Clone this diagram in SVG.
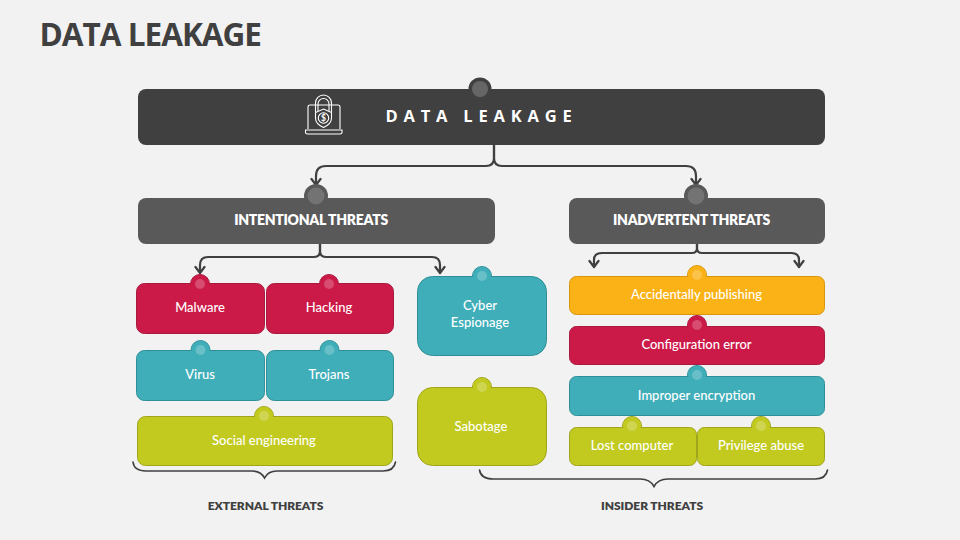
<svg xmlns="http://www.w3.org/2000/svg" width="960" height="540" viewBox="0 0 960 540">
<defs>
<marker id="arr" markerWidth="12" markerHeight="12" refX="9.5" refY="6" orient="auto" markerUnits="userSpaceOnUse"><path d="M3.5 1.5 L9.5 6 L3.5 10.5" fill="none" stroke="#404040" stroke-width="2.200" stroke-linecap="round" stroke-linejoin="round"/></marker>
</defs>
<style>
text{font-family:"Lato","Open Sans",sans-serif;text-anchor:middle}
.lbl{fill:#fff;font-size:13px;font-weight:500}
.hd{fill:#fff;font-size:14px;font-weight:800;letter-spacing:-.3px}
.cap{fill:#404040;font-size:12px;font-weight:800;letter-spacing:-.05px}
.con{fill:none;stroke:#404040;stroke-width:2.200;stroke-linecap:round}
.brace{fill:none;stroke:#404040;stroke-width:1.600;stroke-linecap:round}
.red .b{fill:#cc1a48;stroke:#a81a40}
.teal .b{fill:#3faeb9;stroke:#2f8f98}
.olive .b{fill:#c2ca20;stroke:#a0a61c}
.amber .b{fill:#fab216;stroke:#d8960f}
.in{fill:#fff;fill-opacity:.22}
.ic{fill:none;stroke:#fff;stroke-width:1.100}
</style>
<rect width="960" height="540" fill="#f2f2f2"/>
<text x="39.500" y="46" style="text-anchor:start;font-family:'Open Sans',sans-serif;font-size:31.500px;font-weight:700;letter-spacing:-1px" fill="#404040">DATA LEAKAGE</text>

<g id="connectors">
<path class="con" marker-end="url(#arr)" d="M494 145V158Q494 166 486 166H326Q316 166 316 176V185"/>
<path class="con" marker-end="url(#arr)" d="M494 145V158Q494 166 502 166H686Q696 166 696 176V185"/>
<path class="con" marker-end="url(#arr)" d="M320 244V251Q320 257 314 257H208Q200 257 200 265V273"/>
<path class="con" marker-end="url(#arr)" d="M320 244V251Q320 257 326 257H432Q440 257 440 265V273"/>
<path class="con" marker-end="url(#arr)" d="M697 244V248Q697 253 692 253H602Q594 253 594 260V267"/>
<path class="con" marker-end="url(#arr)" d="M697 244V248Q697 253 702 253H791Q799 253 799 260V267"/>
</g>

<g id="node-root">
<circle cx="480" cy="89" r="11.500" fill="#404040"/><rect x="138" y="89" width="687" height="56" rx="8" fill="#404040"/><circle cx="480" cy="89" r="8" fill="#666"/>
<g id="icon">
<path class="ic" d="M308 129V107Q308 105 310 105H338Q340 105 340 107V129"/>
<path class="ic" d="M305.500 130H342V132.500Q342 134 340 134H307.500Q305.500 134 305.500 132.500Z"/>
<path class="ic" d="M318 112V104A5.500 5.500 0 0 1 329 104V112M315.500 112V103A8 8 0 0 1 331.500 103V112"/>
<path d="M323.500 109L331.500 112.500V118Q331.500 124 323.500 127.500Q315.500 124 315.500 118V112.500Z" fill="#404040" stroke="#fff" stroke-width="1.100"/>
<circle class="ic" cx="323.500" cy="118" r="5.200"/>
<text x="323.500" y="121" style="font-size:8.500px;font-weight:700" fill="#fff">$</text>
</g>
<text x="481.500" y="122" style="font-family:'Open Sans',sans-serif;font-size:16.500px;font-weight:700;letter-spacing:5.800px" fill="#fff">DATA LEAKAGE</text>
</g>

<g id="node-intentional">
<circle cx="316" cy="196" r="12" fill="#595959"/><rect x="138" y="198" width="357" height="46" rx="8" fill="#595959"/><circle cx="316" cy="196" r="8.500" fill="#737373"/>
<text class="hd" x="311" y="225">INTENTIONAL THREATS</text>
</g>
<g id="node-inadvertent">
<circle cx="696" cy="196" r="12" fill="#595959"/><rect x="569" y="198" width="256" height="46" rx="8" fill="#595959"/><circle cx="696" cy="196" r="8.500" fill="#737373"/>
<text class="hd" x="691.500" y="225">INADVERTENT THREATS</text>
</g>

<g id="node-malware" class="red"><circle class="b" cx="200" cy="284" r="9.500"/><rect class="b" x="136.500" y="283.500" width="128" height="50" rx="8"/><circle cx="200" cy="284" r="9" fill="#cc1a48"/><circle class="in" cx="200" cy="284" r="5"/><text class="lbl" x="200" y="312">Malware</text></g>
<g id="node-hacking" class="red"><circle class="b" cx="329" cy="284" r="9.500"/><rect class="b" x="266.500" y="283.500" width="127" height="50" rx="8"/><circle cx="329" cy="284" r="9" fill="#cc1a48"/><circle class="in" cx="329" cy="284" r="5"/><text class="lbl" x="329" y="312">Hacking</text></g>
<g id="node-virus" class="teal"><circle class="b" cx="200.500" cy="350" r="9.500"/><rect class="b" x="136.500" y="350.500" width="128" height="50" rx="8"/><circle cx="200.500" cy="350" r="9" fill="#3faeb9"/><circle class="in" cx="200.500" cy="350" r="5"/><text class="lbl" x="200" y="379">Virus</text></g>
<g id="node-trojans" class="teal"><circle class="b" cx="329.500" cy="350" r="9.500"/><rect class="b" x="266.500" y="350.500" width="127" height="50" rx="8"/><circle cx="329.500" cy="350" r="9" fill="#3faeb9"/><circle class="in" cx="329.500" cy="350" r="5"/><text class="lbl" x="329" y="379">Trojans</text></g>
<g id="node-social" class="olive"><circle class="b" cx="264" cy="416" r="9.500"/><rect class="b" x="137.500" y="416.500" width="255" height="49" rx="8"/><circle cx="264" cy="416" r="9" fill="#c2ca20"/><circle class="in" cx="264" cy="416" r="5"/><text class="lbl" x="264" y="445">Social engineering</text></g>

<g id="node-cyber" class="teal"><circle class="b" cx="482" cy="276" r="9.500"/><rect class="b" x="417.500" y="276.500" width="129" height="79" rx="15"/><circle cx="482" cy="276" r="9" fill="#3faeb9"/><circle class="in" cx="482" cy="276" r="5"/><text class="lbl" x="480" y="310">Cyber</text><text class="lbl" x="480" y="327">Espionage</text></g>
<g id="node-sabotage" class="olive"><circle class="b" cx="482" cy="387" r="9.500"/><rect class="b" x="417.500" y="387.500" width="129" height="78" rx="15"/><circle cx="482" cy="387" r="9" fill="#c2ca20"/><circle class="in" cx="482" cy="387" r="5"/><text class="lbl" x="481" y="431">Sabotage</text></g>

<g id="node-accident" class="amber"><circle class="b" cx="697" cy="275" r="9.500"/><rect class="b" x="569.500" y="276.500" width="255" height="38" rx="7"/><circle cx="697" cy="275" r="9" fill="#fab216"/><circle class="in" cx="697" cy="275" r="5"/><text class="lbl" x="696.500" y="299">Accidentally publishing</text></g>
<g id="node-config" class="red"><circle class="b" cx="697" cy="325" r="9.500"/><rect class="b" x="569.500" y="326.500" width="255" height="38" rx="7"/><circle cx="697" cy="325" r="9" fill="#cc1a48"/><circle class="in" cx="697" cy="325" r="5"/><text class="lbl" x="696.500" y="349">Configuration error</text></g>
<g id="node-encrypt" class="teal"><circle class="b" cx="697" cy="375" r="9.500"/><rect class="b" x="569.500" y="376.500" width="255" height="39" rx="7"/><circle cx="697" cy="375" r="9" fill="#3faeb9"/><circle class="in" cx="697" cy="375" r="5"/><text class="lbl" x="696.500" y="400">Improper encryption</text></g>
<g id="node-lost" class="olive"><circle class="b" cx="632" cy="426" r="9.500"/><rect class="b" x="569.500" y="427.500" width="127" height="38" rx="7"/><circle cx="632" cy="426" r="9" fill="#c2ca20"/><circle class="in" cx="632" cy="426" r="5"/><text class="lbl" x="632" y="450">Lost computer</text></g>
<g id="node-privilege" class="olive"><circle class="b" cx="761" cy="426" r="9.500"/><rect class="b" x="697.500" y="427.500" width="127" height="38" rx="7"/><circle cx="761" cy="426" r="9" fill="#c2ca20"/><circle class="in" cx="761" cy="426" r="5"/><text class="lbl" x="761" y="450">Privilege abuse</text></g>

<g id="braces">
<path class="brace" d="M133 462Q134 471 146 471H252Q261 471 264.500 478Q268 471 277 471H383Q394 471 395.500 462"/>
<path class="brace" d="M479.500 470Q481 479 493 479H640Q650 479 654 486.500Q658 479 668 479H815Q826 479 827.500 470"/>
</g>
<text class="cap" x="265.500" y="510">EXTERNAL THREATS</text>
<text class="cap" x="652" y="510">INSIDER THREATS</text>
</svg>
